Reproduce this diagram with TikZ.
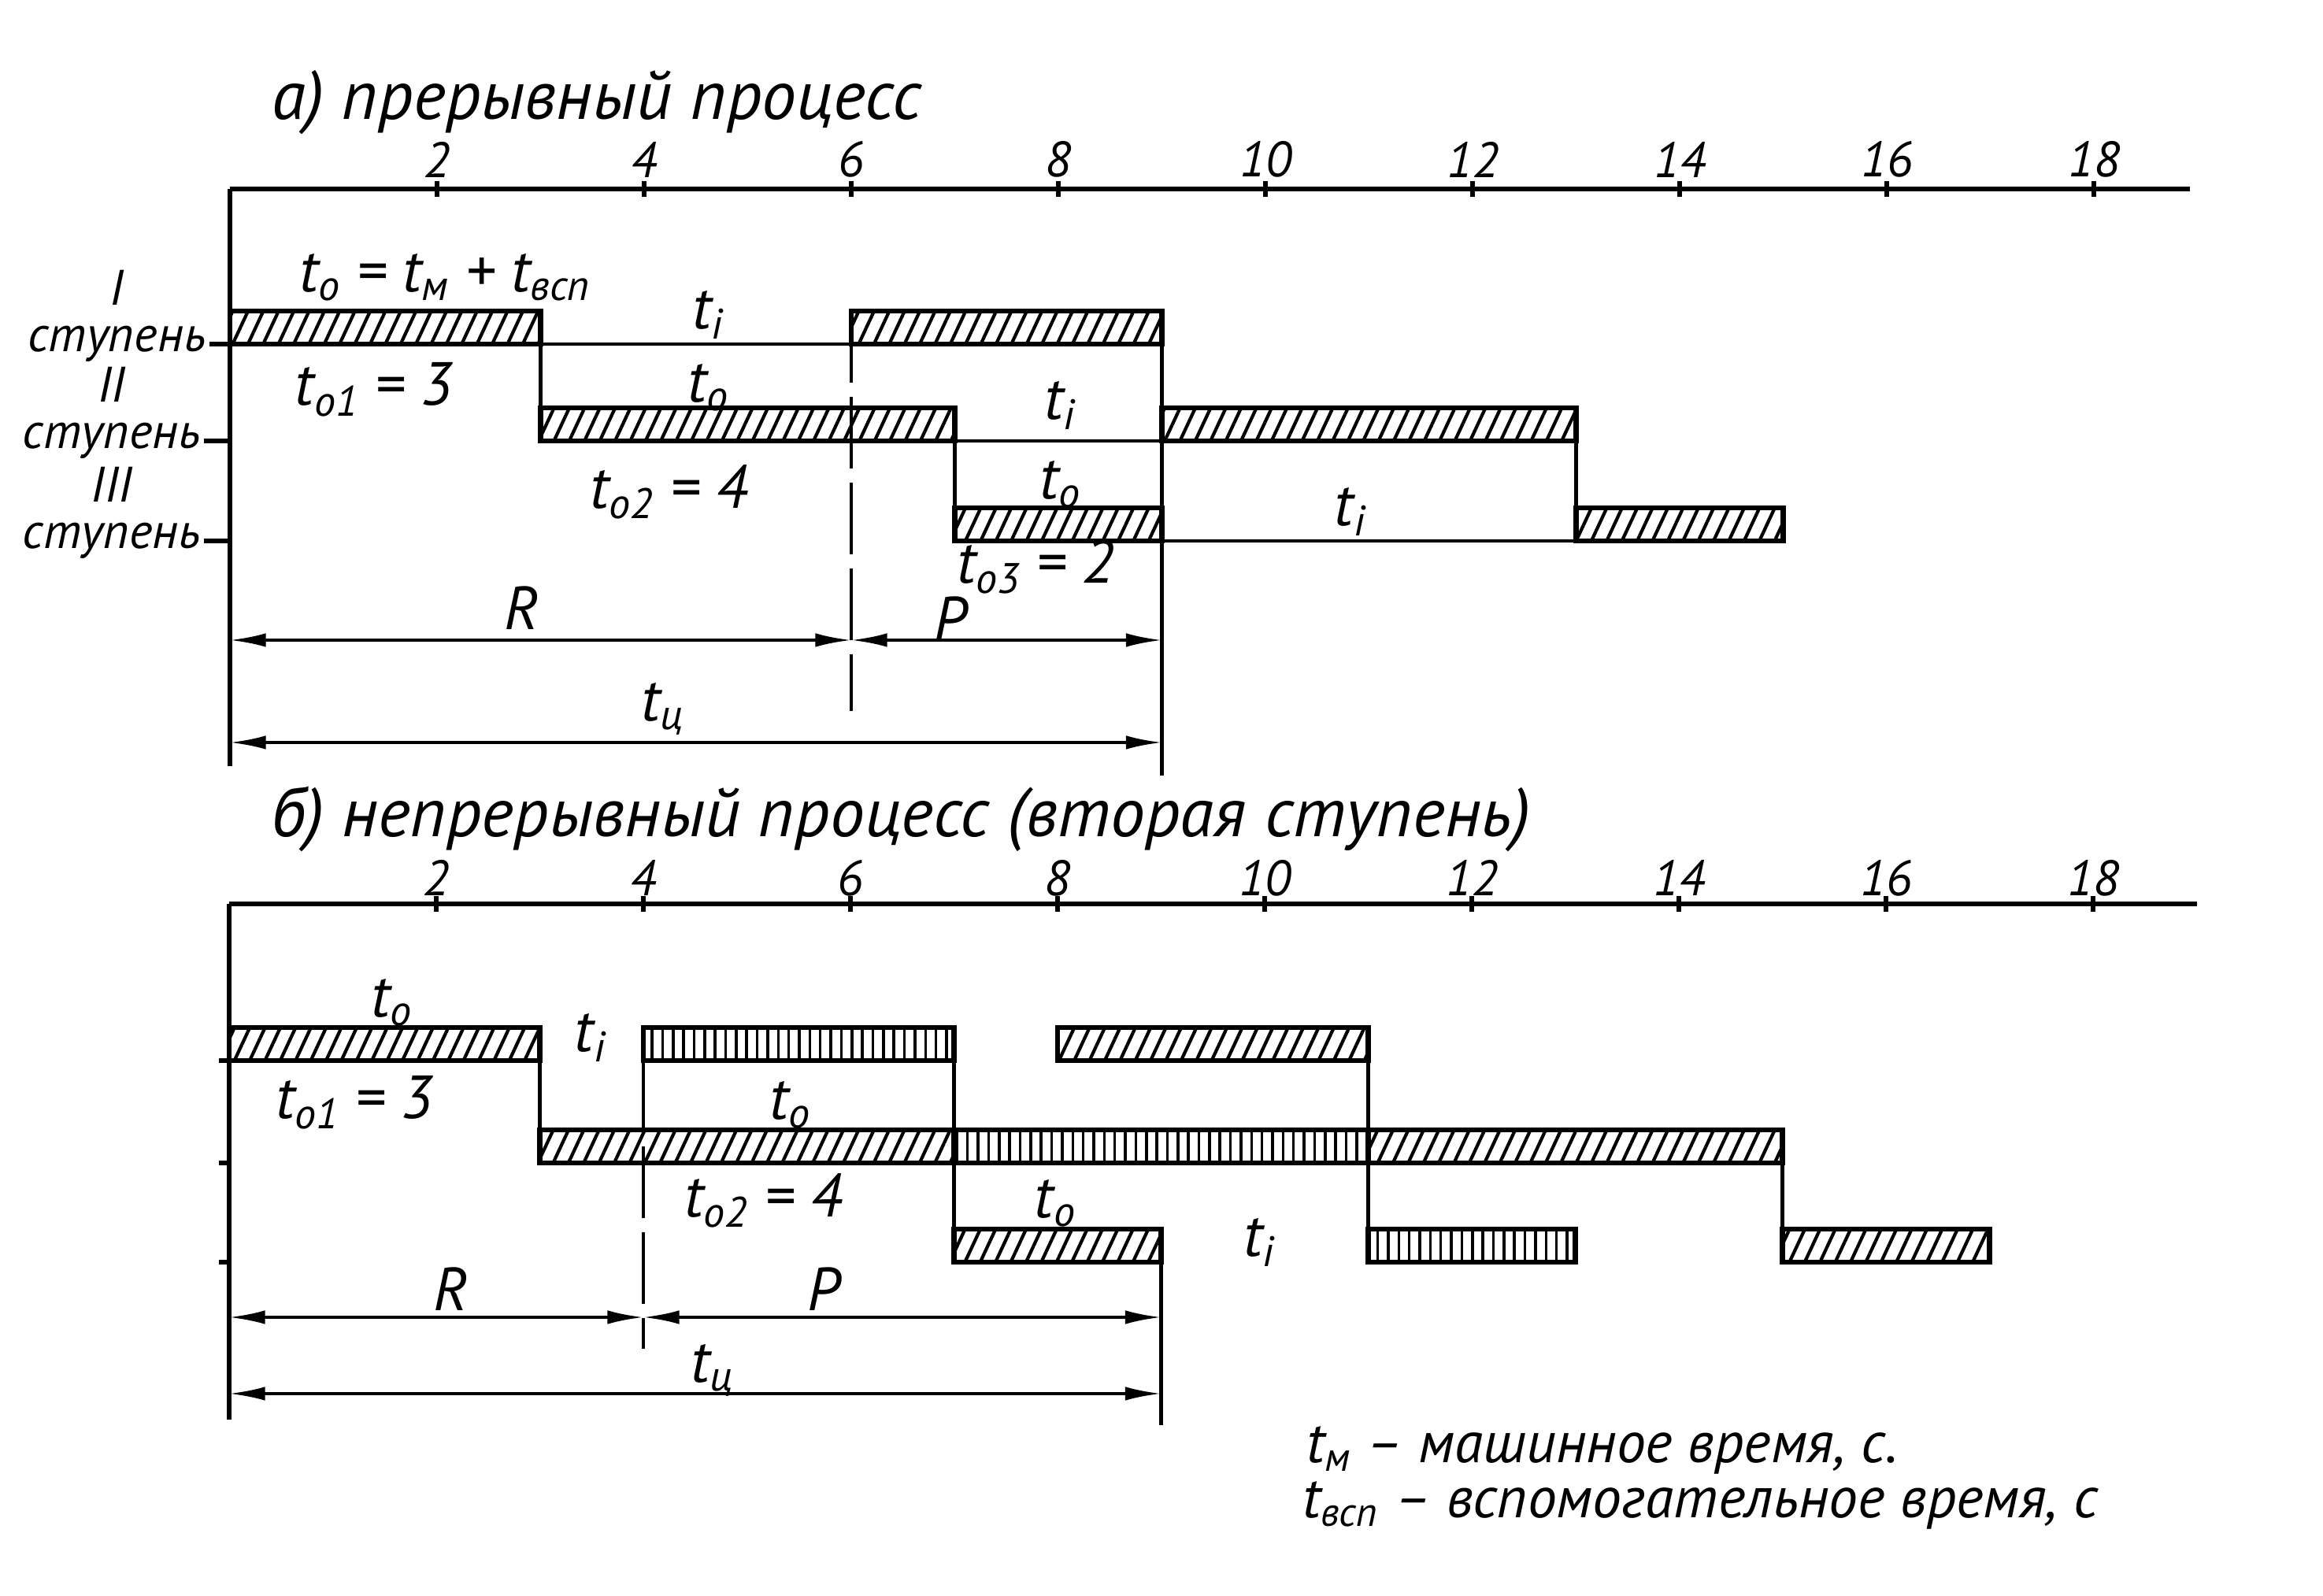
\documentclass[tikz,border=0pt]{standalone}
\usepackage{fontspec}
\setmainfont{PT Sans}
\usetikzlibrary{positioning}
\usetikzlibrary{arrows.meta}
\usetikzlibrary{patterns.meta}

\newcommand{\tsb}[1]{t\textsubscript{#1}}

\tikzset{
  hand/.style={font=\itshape\fontsize{22}{26}\selectfont, inner sep=1pt},
  legend/.style={font=\itshape\fontsize{21}{25}\selectfont, inner sep=1pt, anchor=west},
  heading/.style={font=\itshape\fontsize{25}{30}\selectfont, anchor=west, inner sep=0pt},
  ticklbl/.style={font=\itshape\fontsize{18}{21}\selectfont, inner sep=1pt},
  stagelbl/.style={font=\itshape\fontsize{18}{22}\selectfont, inner sep=1pt, anchor=east},
  romnum/.style={font=\itshape\fontsize{18}{22}\selectfont, inner sep=0pt},
  axisline/.style={line width=1.5pt},
  hatchbar/.style={draw, line width=1.8pt, pattern={Lines[angle=65,distance=5pt,line width=1.2pt]}},
  combbar/.style={draw, line width=1.8pt, pattern={Lines[angle=90,distance=3.8pt,line width=1pt]}},
  idle/.style={line width=0.9pt},
  longdash/.style={line width=1.3pt, dash pattern=on 26pt off 5pt},
  dimline/.style={line width=1.1pt, {Latex[length=13pt,width=5pt]}-{Latex[length=13pt,width=5pt]}},
}

\begin{document}
\begin{tikzpicture}
\useasboundingbox (0,0) rectangle (29.5,20.27);

% a) прерывный процесс
\begin{scope}[shift={(2.92cm,17.87cm)}, x=1.315cm]
  \node[heading] (atitle) at (0.4,1.1) {а) прерывный процесс};
  \coordinate (aO) at (0,0);
  \draw[axisline] (aO) -- (18.93,0);
  \draw[axisline] (aO) -- (0,-7.33);
  \foreach \k in {2,4,...,18} {
    \draw[axisline] (\k,0.1) -- (\k,-0.1);
    \node[ticklbl, above=0.1cm] (ta\k) at (\k,0) {\k};
  }

  % ступени
  \node[stagelbl] (ast1) at (-0.2,-1.97) {ступень};
  \node[romnum, above=0.22cm of ast1] (arn1) {I};
  \node[stagelbl] (ast2) at (-0.25,-3.20) {ступень};
  \node[romnum, above=0.22cm of ast2] (arn2) {II};
  \node[stagelbl] (ast3) at (-0.25,-4.47) {ступень};
  \node[romnum, above=0.22cm of ast3] (arn3) {III};
  \foreach \s in {1,2,3}
    \draw[axisline] (ast\s.east) -- (ast\s.east -| aO);

  % работа и простой
  \draw[hatchbar] (0,-1.97) rectangle (3,-1.55);
  \draw[hatchbar] (6,-1.97) rectangle (9,-1.55);
  \draw[hatchbar] (3,-3.20) rectangle (7,-2.78);
  \draw[hatchbar] (9,-3.20) rectangle (13,-2.78);
  \draw[hatchbar] (7,-4.47) rectangle (9,-4.05);
  \draw[hatchbar] (13,-4.47) rectangle (15,-4.05);
  \draw[idle] (3,-1.97) -- (6,-1.97);
  \draw[idle] (7,-3.20) -- (9,-3.20);
  \draw[idle] (9,-4.47) -- (13,-4.47);
  \draw[axisline] (3,-1.55) -- (3,-3.20);
  \draw[axisline] (7,-2.78) -- (7,-4.47);
  \draw[axisline] (13,-2.78) -- (13,-4.47);
  \draw[axisline] (9,-1.55) -- (9,-7.45);
  \draw[longdash] (6,-1.55) -- (6,-6.63);

  \node[hand] (alto) at (2.08,-1.12) {\tsb{о} = \tsb{м} + \tsb{всп}};
  \node[hand] (alti1) at (4.62,-1.60) {\tsb{i}};
  \node[hand] (alt01) at (1.39,-2.55) {\tsb{о1} = 3};
  \node[hand] (alto2) at (4.62,-2.52) {\tsb{о}};
  \node[hand] (alti2) at (8.02,-2.75) {\tsb{i}};
  \node[hand] (alt02) at (4.24,-3.85) {\tsb{о2} = 4};
  \node[hand] (alto3) at (8.02,-3.75) {\tsb{о}};
  \node[hand] (alti3) at (10.82,-4.10) {\tsb{i}};
  \node[hand] (alt03) at (7.78,-4.80) {\tsb{о3} = 2};

  \coordinate (aR0) at (0,-5.73);
  \coordinate (aR1) at (6,-5.73);
  \coordinate (aR2) at (9,-5.73);
  \coordinate (aC0) at (0,-7.03);
  \coordinate (aC1) at (9,-7.03);
  \draw[dimline] (aR0) -- (aR1);
  \draw[dimline] (aR1) -- (aR2);
  \draw[dimline] (aC0) -- (aC1);
  \node[hand] (alR) at (2.82,-5.32) {R};
  \node[hand] (alP) at (6.96,-5.45) {P};
  \node[hand] (altc) at (4.18,-6.60) {\tsb{ц}};
\end{scope}

% б) непрерывный процесс
\begin{scope}[shift={(2.91cm,8.79cm)}, x=1.315cm]
  \node[heading] (btitle) at (0.4,1.08) {б) непрерывный процесс (вторая ступень)};
  \coordinate (bO) at (0,0);
  \draw[axisline] (bO) -- (19.0,0);
  \draw[axisline] (bO) -- (0,-6.55);
  \foreach \k in {2,4,...,18} {
    \draw[axisline] (\k,0.1) -- (\k,-0.1);
    \node[ticklbl, above=0.06cm] (tb\k) at (\k,0) {\k};
  }
  \foreach \y in {-1.99,-3.29,-4.55}
    \draw[axisline] (-0.1,\y) -- (0,\y);

  \draw[hatchbar] (0,-1.99) rectangle (3,-1.57);
  \draw[combbar] (4,-1.99) rectangle (7,-1.57);
  \draw[hatchbar] (8,-1.99) rectangle (11,-1.57);
  \draw[hatchbar] (3,-3.29) rectangle (7,-2.87);
  \draw[combbar] (7,-3.29) rectangle (11,-2.87);
  \draw[hatchbar] (11,-3.29) rectangle (15,-2.87);
  \draw[hatchbar] (7,-4.55) rectangle (9,-4.13);
  \draw[combbar] (11,-4.55) rectangle (13,-4.13);
  \draw[hatchbar] (15,-4.55) rectangle (17,-4.13);
  \draw[axisline] (3,-1.57) -- (3,-3.29);
  \draw[axisline] (7,-1.57) -- (7,-4.55);
  \draw[axisline] (11,-1.57) -- (11,-4.55);
  \draw[axisline] (15,-2.87) -- (15,-4.55);
  \draw[axisline] (9,-4.13) -- (9,-6.62);
  \draw[longdash] (4,-1.99) -- (4,-5.65);

  \node[hand] (blto1) at (1.57,-1.25) {\tsb{о}};
  \node[hand] (blti1) at (3.49,-1.70) {\tsb{i}};
  \node[hand] (blt01) at (1.21,-2.52) {\tsb{о1} = 3};
  \node[hand] (blto2) at (5.42,-2.55) {\tsb{о}};
  \node[hand] (blt02) at (5.16,-3.77) {\tsb{о2} = 4};
  \node[hand] (blto3) at (7.98,-3.80) {\tsb{о}};
  \node[hand] (blti3) at (9.95,-4.30) {\tsb{i}};

  \coordinate (bR0) at (0,-5.25);
  \coordinate (bR1) at (4,-5.25);
  \coordinate (bR2) at (9,-5.25);
  \coordinate (bC0) at (0,-6.22);
  \coordinate (bC1) at (9,-6.22);
  \draw[dimline] (bR0) -- (bR1);
  \draw[dimline] (bR1) -- (bR2);
  \draw[dimline] (bC0) -- (bC1);
  \node[hand] (blR) at (2.14,-4.89) {R};
  \node[hand] (blP) at (5.74,-4.89) {P};
  \node[hand] (bltc) at (4.67,-5.92) {\tsb{ц}};
\end{scope}

\node[legend] (leg1) at (16.55,1.85) {\tsb{м} -- машинное время, с.};
\node[legend] (leg2) at (16.50,1.15) {\tsb{всп} -- вспомогательное время, с};
\end{tikzpicture}
\end{document}
